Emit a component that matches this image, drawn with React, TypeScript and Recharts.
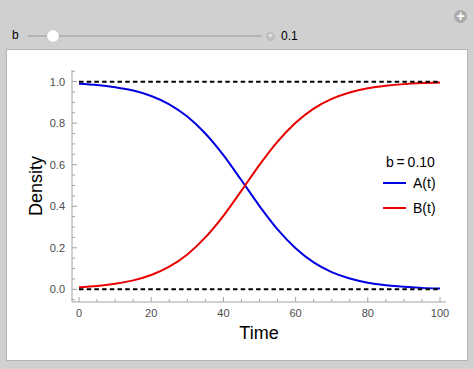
import { LineChart, Line, XAxis, YAxis, ReferenceLine, Legend } from 'recharts';

const TIMES = [0, 5, 10, 15, 20, 25, 30, 35, 40, 45, 50, 55, 60, 65, 70, 75, 80, 85, 90, 95, 100];
const A_VALUES = [0.99, 0.984, 0.973, 0.957, 0.931, 0.891, 0.832, 0.75, 0.646, 0.525, 0.401, 0.289, 0.198, 0.13, 0.083, 0.052, 0.032, 0.02, 0.012, 0.007, 0.004];
const B_VALUES = [0.01, 0.016, 0.027, 0.043, 0.069, 0.109, 0.168, 0.25, 0.354, 0.475, 0.599, 0.711, 0.802, 0.87, 0.917, 0.948, 0.968, 0.98, 0.988, 0.993, 0.996];

const X_MAJOR = [0, 20, 40, 60, 80, 100];
const X_MINOR = [5, 10, 15, 25, 30, 35, 45, 50, 55, 65, 70, 75, 85, 90, 95];
const Y_MAJOR = [0, 0.2, 0.4, 0.6, 0.8, 1.0];
const Y_MINOR = [-0.05, 0.05, 0.1, 0.15, 0.25, 0.3, 0.35, 0.45, 0.5, 0.55, 0.65, 0.7, 0.75, 0.85, 0.9, 0.95, 1.05];

const X_DOMAIN = [-1.94, 101.66];
const Y_DOMAIN = [-0.061, 1.056];
const B_PARAM = '0.10';
const SLIDER_VALUE = '0.1';

const FONT = '"Liberation Sans", Arial, Helvetica, sans-serif';
const FRAME = '#a3a3a3';
const TICK_TEXT = '#4d4d4d';
const BG = '#d0d0d0';

const xTicks = [...X_MAJOR, ...X_MINOR].sort((a, b) => a - b);
const yTicks = [...Y_MAJOR, ...Y_MINOR].sort((a, b) => a - b);

const data = TIMES.map((t, i) => ({ t, a: A_VALUES[i], b: B_VALUES[i] }));

// ticks drawn inward from the frame, labels only on bottom/left
const FrameTick = ({ x, y, payload, side }: any) => {
  const v = payload.value;
  const major = side === 'bottom' || side === 'top' ? X_MAJOR.includes(v) : Y_MAJOR.includes(v);
  const len = major ? 5 : 3;
  let line;
  if (side === 'bottom') line = { x1: x, x2: x, y1: y, y2: y - len };
  else if (side === 'top') line = { x1: x, x2: x, y1: y, y2: y + len };
  else if (side === 'left') line = { x1: x, x2: x + len, y1: y, y2: y };
  else line = { x1: x, x2: x - len, y1: y, y2: y };
  return (
    <g>
      <line {...line} stroke={FRAME} strokeWidth={1} />
      {major && side === 'bottom' && (
        <text x={x} y={y + 11} textAnchor="middle" dominantBaseline="central" fill={TICK_TEXT} fontSize={11} fontFamily={FONT}>
          {v}
        </text>
      )}
      {major && side === 'left' && (
        <text x={x - 7} y={y} textAnchor="end" dominantBaseline="central" fill={TICK_TEXT} fontSize={11} fontFamily={FONT}>
          {v.toFixed(1)}
        </text>
      )}
    </g>
  );
};

const LegendBox = ({ payload }: any) => (
  <div style={{ fontFamily: FONT, fontSize: 14, color: '#000' }}>
    <div style={{ height: 15, lineHeight: '15px', paddingLeft: 3, whiteSpace: 'nowrap' }}>
      b{'\u2009'}={'\u2009'}{B_PARAM}
    </div>
    {(payload || []).map((p: any) => (
      <div key={p.value} style={{ display: 'flex', alignItems: 'center', height: 25 }}>
        <span style={{ display: 'inline-block', width: 23, height: 2, background: p.color, marginRight: 7 }} />
        <span>{p.value}</span>
      </div>
    ))}
  </div>
);

const Slider = () => (
  <>
    <div style={{ position: 'absolute', left: 12, top: 28, fontFamily: FONT, fontSize: 12, color: '#000' }}>b</div>
    <div style={{ position: 'absolute', left: 28, top: 35, width: 234, height: 2, background: '#b4b4b4' }} />
    <div style={{ position: 'absolute', left: 47, top: 30, width: 12, height: 12, borderRadius: 6, background: '#fff', boxShadow: '0 0 1px #999' }} />
    <div style={{ position: 'absolute', left: 266, top: 32, width: 9, height: 9, borderRadius: 5, background: '#bdbdbd', color: '#fff', fontSize: 9, lineHeight: '9px', textAlign: 'center', fontFamily: FONT }}>+</div>
    <div style={{ position: 'absolute', left: 281, top: 29, fontFamily: FONT, fontSize: 12, color: '#000' }}>{SLIDER_VALUE}</div>
    <div style={{ position: 'absolute', left: 454, top: 10, width: 13, height: 13, borderRadius: 7, background: '#aaa', color: '#fff', fontSize: 14, fontWeight: 'bold', lineHeight: '13px', textAlign: 'center', fontFamily: FONT }}>+</div>
  </>
);

const App = () => (
  <div style={{ position: 'absolute', left: 0, top: 0, width: 474, height: 369, background: BG, overflow: 'hidden' }}>
    <Slider />
    <div style={{ position: 'absolute', left: 6, top: 49, width: 460, height: 310, background: '#fff', border: '1px solid #b3b3b3' }} />
    <div style={{ position: 'absolute', left: 0, top: 0 }}>
      <LineChart width={474} height={369} data={data} margin={{ top: 70, right: 28, left: 0, bottom: 0 }}>
        <XAxis
          dataKey="t"
          type="number"
          domain={X_DOMAIN}
          allowDataOverflow
          ticks={xTicks}
          interval={0}
          height={67}
          tickSize={0}
          tickMargin={0}
          tickLine={false}
          axisLine={{ stroke: FRAME }}
          tick={<FrameTick side="bottom" />}
          label={{
            content: ({ viewBox }: any) => (
              <text x={viewBox.x + viewBox.width / 2} y={viewBox.y + 31} textAnchor="middle" dominantBaseline="central" fontSize={18} fontFamily={FONT} fill="#000">
                Time
              </text>
            ),
          }}
        />
        <XAxis
          xAxisId="top"
          dataKey="t"
          type="number"
          orientation="top"
          domain={X_DOMAIN}
          allowDataOverflow
          ticks={xTicks}
          interval={0}
          height={0}
          tickSize={0}
          tickMargin={0}
          tickLine={false}
          axisLine={{ stroke: FRAME }}
          tick={<FrameTick side="top" />}
        />
        <YAxis
          type="number"
          domain={Y_DOMAIN}
          allowDataOverflow
          ticks={yTicks}
          interval={0}
          width={72}
          tickSize={0}
          tickMargin={0}
          tickLine={false}
          axisLine={{ stroke: FRAME }}
          tick={<FrameTick side="left" />}
          label={{
            content: ({ viewBox }: any) => {
              const cx = 35.5;
              const cy = viewBox.y + viewBox.height / 2;
              return (
                <text x={cx} y={cy} transform={`rotate(-90, ${cx}, ${cy})`} textAnchor="middle" dominantBaseline="central" fontSize={18} fontFamily={FONT} fill="#000">
                  Density
                </text>
              );
            },
          }}
        />
        <YAxis
          yAxisId="right"
          orientation="right"
          type="number"
          domain={Y_DOMAIN}
          allowDataOverflow
          ticks={yTicks}
          interval={0}
          width={0}
          tickSize={0}
          tickMargin={0}
          tickLine={false}
          axisLine={{ stroke: FRAME }}
          tick={<FrameTick side="right" />}
        />
        <Legend
          layout="vertical"
          align="center"
          verticalAlign="middle"
          wrapperStyle={{ left: 383, top: 155, width: 70, height: 70 }}
          content={<LegendBox />}
        />
        <Line type="monotone" dataKey="a" name="A(t)" stroke="#0000e0" strokeWidth={2} dot={false} isAnimationActive={false} />
        <Line type="monotone" dataKey="b" name="B(t)" stroke="#e80000" strokeWidth={2} dot={false} isAnimationActive={false} />
        <ReferenceLine segment={[{ x: 0, y: 1 }, { x: 100, y: 1 }]} stroke="#000" strokeWidth={2} strokeDasharray="4.5 3.2" />
        <ReferenceLine segment={[{ x: 0, y: 0 }, { x: 100, y: 0 }]} stroke="#000" strokeWidth={2} strokeDasharray="4.5 3.2" />
      </LineChart>
    </div>
  </div>
);

export default App;
